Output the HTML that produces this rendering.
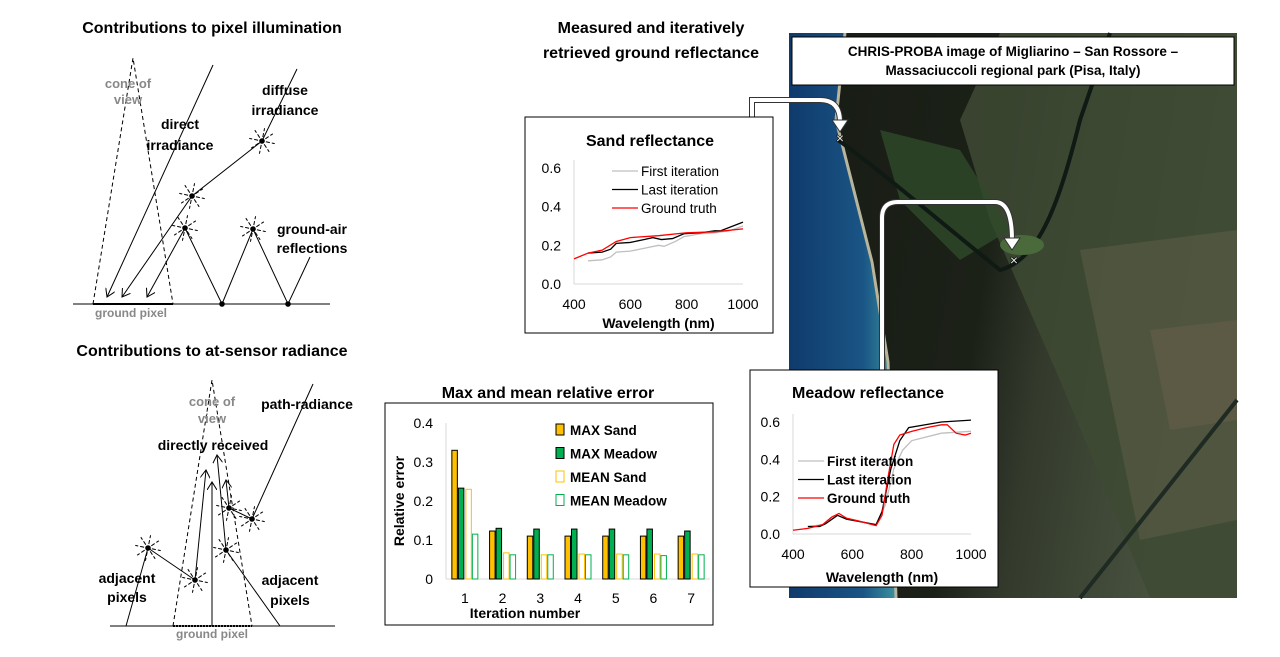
<!DOCTYPE html>
<html><head><meta charset="utf-8"><style>
body{margin:0;width:1280px;height:652px;background:#fff;overflow:hidden;font-family:"Liberation Sans",sans-serif}
svg text{font-family:"Liberation Sans",sans-serif}
</style></head><body>
<svg id="s" width="1280" height="652" xmlns="http://www.w3.org/2000/svg">
<defs>
<marker id="ah" markerWidth="10" markerHeight="10" refX="8" refY="5" orient="auto" markerUnits="userSpaceOnUse"><path d="M0,0 L8,5 L0,10" fill="none" stroke="#000" stroke-width="1"/></marker>
<linearGradient id="sea" x1="0" y1="0" x2="1" y2="0"><stop offset="0" stop-color="#0f3a6c"/><stop offset="0.7" stop-color="#1a5585"/><stop offset="1" stop-color="#3a8f9e"/></linearGradient>
<linearGradient id="land" x1="0" y1="0" x2="1" y2="0.2"><stop offset="0" stop-color="#171b14"/><stop offset="0.5" stop-color="#1c2118"/><stop offset="0.65" stop-color="#333a2c"/><stop offset="1" stop-color="#4a5340"/></linearGradient>
</defs>
<g>
<rect x="789" y="33" width="448" height="565" fill="url(#land)"/>
<polygon points="1000,33 1237,33 1237,598 1150,598 1060,380 990,220 960,120" fill="#3e4a34" opacity="0.85"/>
<polygon points="1080,250 1237,230 1237,520 1140,540" fill="#5a5c46" opacity="0.6"/>
<polygon points="1150,330 1237,320 1237,420 1170,430" fill="#6a5f4a" opacity="0.5"/>
<polygon points="880,130 960,150 1010,230 960,260 900,200" fill="#2f4a2a" opacity="0.8"/>
<polygon points="789,33 845,33 835,120 870,260 887,360 895,598 789,598" fill="url(#sea)"/>
<polyline points="845,33 836,120 872,262 888,362 896,598" fill="none" stroke="#b8b59c" stroke-width="3"/>
<path d="M838,140 C880,170 950,230 1000,270 C1040,260 1060,200 1080,120 L1110,33" fill="none" stroke="#101a14" stroke-width="4"/>
<path d="M1237,400 L1080,598" stroke="#1e2a22" stroke-width="4"/>
<ellipse cx="1022" cy="245" rx="22" ry="10" fill="#4a6a3c"/>
<rect x="792" y="37" width="442" height="48" fill="#fff" stroke="#000" stroke-width="1"/>
<text x="1013" y="56" text-anchor="middle" font-size="13.5" font-weight="bold">CHRIS-PROBA image of Migliarino – San Rossore –</text>
<text x="1013" y="75" text-anchor="middle" font-size="13.5" font-weight="bold">Massaciuccoli regional park (Pisa, Italy)</text>
</g>
<g fill="none">
<path d="M752,119 L752,100 L820,100 Q840,100 840,122" stroke="#333" stroke-width="6"/>
<path d="M752,119 L752,100 L820,100 Q840,100 840,122" stroke="#fff" stroke-width="4"/>
<polygon points="832,120 848,120 840,132" fill="#fff" stroke="#333"/>
<path d="M882,372 L882,218 Q882,202 898,202 L995,202 Q1012,202 1012,240" stroke="#333" stroke-width="6"/>
<path d="M882,372 L882,218 Q882,202 898,202 L995,202 Q1012,202 1012,240" stroke="#fff" stroke-width="4"/>
<polygon points="1004,238 1020,238 1012,250" fill="#fff" stroke="#333"/>
<text x="840" y="143" text-anchor="middle" font-size="14" fill="#fff" stroke="#000" stroke-width="0.6" font-weight="bold">×</text>
<text x="1014" y="265" text-anchor="middle" font-size="14" fill="#fff" stroke="#000" stroke-width="0.6" font-weight="bold">×</text>
</g>
<text x="212" y="33" text-anchor="middle" font-size="16" font-weight="bold">Contributions  to pixel illumination</text>
<text x="212" y="356" text-anchor="middle" font-size="16" font-weight="bold">Contributions  to at-sensor radiance</text>
<text x="651" y="33" text-anchor="middle" font-size="16" font-weight="bold">Measured and iteratively</text>
<text x="651" y="58" text-anchor="middle" font-size="16" font-weight="bold">retrieved ground reflectance</text>
<text x="548" y="398" text-anchor="middle" font-size="16" font-weight="bold">Max and mean relative error</text>
<g id="d1" stroke="#000" fill="none" stroke-width="1">
<line x1="73" y1="304" x2="330" y2="304"/>
<polyline points="93,304 133,58 173,304" stroke-dasharray="4,3"/>
<line x1="93" y1="304" x2="173" y2="304" stroke-width="2"/>
<line x1="213" y1="65" x2="107" y2="297" marker-end="url(#ah)"/>
<polyline points="297,69 262,141 192,196 122,297" marker-end="url(#ah)"/>
<line x1="185" y1="228" x2="147" y2="297" marker-end="url(#ah)"/>
<polyline points="185,228 222,304 253,229 288,304 310,257"/>
</g>
<g stroke="none" fill="#000" font-size="14" font-weight="bold" text-anchor="middle">
<text x="128" y="88" fill="#888" font-size="13">cone of</text><text x="128" y="104" fill="#888" font-size="13">view</text>
<text x="180" y="129">direct</text><text x="180" y="150">irradiance</text>
<text x="285" y="95">diffuse</text><text x="285" y="115">irradiance</text>
<text x="312" y="234">ground-air</text><text x="312" y="253">reflections</text>
<text x="131" y="317" fill="#888" font-size="12">ground pixel</text>
</g>
<g id="d2" stroke="#000" fill="none" stroke-width="1">
<line x1="110" y1="626" x2="335" y2="626"/>
<polyline points="173,626 212,380 252,626" stroke-dasharray="4,3"/>
<line x1="173" y1="626" x2="252" y2="626" stroke-width="2" stroke-dasharray="2,1"/>
<line x1="212" y1="626" x2="212" y2="482" marker-end="url(#ah)"/>
<line x1="195" y1="580" x2="206" y2="470" marker-end="url(#ah)"/>
<polyline points="126,626 148,548 195,580"/>
<polyline points="280,626 226,550 217,455" marker-end="url(#ah)"/>
<line x1="229" y1="508" x2="226" y2="480" marker-end="url(#ah)"/>
<polyline points="229,508 252,519 313,384"/>
</g>
<g stroke="none" fill="#000" font-size="14" font-weight="bold" text-anchor="middle">
<text x="212" y="406" fill="#888" font-size="13">cone of</text><text x="212" y="423" fill="#888" font-size="13">view</text>
<text x="307" y="409">path-radiance</text>
<text x="213" y="450">directly received</text>
<text x="127" y="583">adjacent</text><text x="127" y="602">pixels</text>
<text x="290" y="585">adjacent</text><text x="290" y="605">pixels</text>
<text x="212" y="638" fill="#888" font-size="12">ground pixel</text>
</g>
<rect x="525" y="117" width="248" height="216" fill="#fff" stroke="#000"/>
<text x="650" y="146" text-anchor="middle" font-size="16" font-weight="bold">Sand reflectance</text>
<g id="sand"></g>
<rect x="750" y="370" width="248" height="217" fill="#fff" stroke="#000"/>
<text x="792" y="398" font-size="16" font-weight="bold">Meadow reflectance</text>
<g id="meadow"></g>
<rect x="385" y="403" width="328" height="222" fill="#fff" stroke="#000"/>
<g id="bars"></g>
</svg>
<script>
const NS="http://www.w3.org/2000/svg";
const iterations=["1","2","3","4","5","6","7"];
const maxSand=[0.33,0.123,0.11,0.11,0.11,0.11,0.11];
const maxMeadow=[0.233,0.13,0.128,0.128,0.128,0.128,0.123];
const meanSand=[0.23,0.067,0.062,0.064,0.064,0.064,0.064];
const meanMeadow=[0.115,0.062,0.062,0.062,0.062,0.06,0.062];
const errTicks=["0","0.1","0.2","0.3","0.4"];
const sandTruthX=[400,450,500,550,600,700,800,900,1000];
const sandTruthY=[0.13,0.16,0.175,0.22,0.24,0.25,0.265,0.27,0.285];
const sandLastX=[450,500,530,550,600,650,680,710,750,790,850,900,920,1000];
const sandLastY=[0.16,0.165,0.18,0.21,0.215,0.23,0.24,0.23,0.235,0.26,0.265,0.275,0.275,0.32];
const sandFirstX=[450,500,530,550,600,650,700,720,760,790,850,900,950,1000];
const sandFirstY=[0.12,0.125,0.14,0.165,0.17,0.185,0.2,0.195,0.22,0.245,0.26,0.265,0.275,0.3];
const meadowTruthX=[400,450,500,530,555,580,620,680,700,720,740,760,800,850,900,920,950,980,1000];
const meadowTruthY=[0.02,0.03,0.05,0.09,0.11,0.085,0.07,0.045,0.1,0.3,0.48,0.53,0.55,0.57,0.585,0.585,0.54,0.53,0.54];
const meadowLastX=[450,490,510,550,580,680,700,730,760,790,900,1000];
const meadowLastY=[0.04,0.04,0.055,0.1,0.08,0.05,0.12,0.35,0.5,0.57,0.6,0.61];
const meadowFirstX=[450,500,550,580,680,710,740,770,800,900,1000];
const meadowFirstY=[0.04,0.05,0.1,0.08,0.05,0.15,0.35,0.45,0.5,0.54,0.55];
const wlTicks=["400","600","800","1000"];
const reflTicks=["0.0","0.2","0.4","0.6"];

function el(tag,attrs,parent){const e=document.createElementNS(NS,tag);for(const k in attrs)e.setAttribute(k,attrs[k]);parent.appendChild(e);return e;}
function txt(s,attrs,parent){const t=el('text',attrs,parent);t.textContent=s;return t;}

function star(g,x,y){
  const st=el('g',{},g);
  
  
  for(let i=0;i<8;i++){const a=i*Math.PI/4+0.2;el('line',{x1:x+4*Math.cos(a),y1:y+4*Math.sin(a),x2:x+13*Math.cos(a),y2:y+13*Math.sin(a),stroke:'#000','stroke-dasharray':'4,2'},st);}
  el('circle',{cx:x,cy:y,r:2.3,fill:'#000'},st);
}
const d1=document.getElementById('d1'),d2=document.getElementById('d2');
[[262,141],[192,196],[185,228],[253,229]].forEach(p=>star(d1,p[0],p[1]));
el('circle',{cx:222,cy:304,r:2.3,fill:'#000'},d1);el('circle',{cx:288,cy:304,r:2.3,fill:'#000'},d1);
[[148,548],[195,580],[226,550],[229,508],[252,519]].forEach(p=>star(d2,p[0],p[1]));

function lineChart(g,x0,x1,y0,y1,series,legendX,legendY,xlabelY){
  const sx=v=>x0+(v-400)/600*(x1-x0), sy=v=>y0-(v/0.6)*(y0-y1);
  el('line',{x1:x0,y1:y1-8,x2:x0,y2:y0,stroke:'#d9d9d9'},g);
  el('line',{x1:x0,y1:y0,x2:x1,y2:y0,stroke:'#d9d9d9'},g);
  reflTicks.forEach(t=>{const l=txt(t,{x:x0-13,y:sy(+t)+5,'text-anchor':'end','font-size':14},g);
    });
  wlTicks.forEach(t=>{const l=txt(t,{x:sx(+t),y:y0+25,'text-anchor':'middle','font-size':14},g);
    });
  const xl=txt('Wavelength (nm)',{x:(x0+x1)/2,y:xlabelY,'text-anchor':'middle','font-size':14,'font-weight':'bold'},g);
  
  series.forEach((s,i)=>{
    const p=el('polyline',{points:s.x.map((v,j)=>sx(v)+','+sy(s.y[j])).join(' '),fill:'none',stroke:s.c,'stroke-width':1.3},g);
    
  });
  series.forEach((s,i)=>{
    const yy=legendY+i*18.5;
    el('line',{x1:legendX-29,y1:yy-5,x2:legendX-3,y2:yy-5,stroke:s.c,'stroke-width':1.3},g);
    const t=txt(s.n,{x:legendX,y:yy,'font-size':13.5,'font-weight':s.b?'bold':'normal'},g);
    
  });
}
lineChart(document.getElementById('sand'),574,743,284,168,[
 {x:sandFirstX,y:sandFirstY,c:'#bfbfbf',n:'First iteration'},
 {x:sandLastX,y:sandLastY,c:'#000',n:'Last iteration'},
 {x:sandTruthX,y:sandTruthY,c:'#f00',n:'Ground truth'}],641,176,328);
lineChart(document.getElementById('meadow'),793,971,534,422,[
 {x:meadowFirstX,y:meadowFirstY,c:'#bfbfbf',n:'First iteration',b:1},
 {x:meadowLastX,y:meadowLastY,c:'#000',n:'Last iteration',b:1},
 {x:meadowTruthX,y:meadowTruthY,c:'#f00',n:'Ground truth',b:1}],827,466,582);

(function(){
  const g=document.getElementById('bars');
  const x0=446,x1=710,y0=579,yTop=423;
  const sy=v=>y0-v/0.4*(y0-yTop);
  const step=(x1-x0)/iterations.length;
  el('line',{x1:x0,y1:yTop,x2:x0,y2:y0,stroke:'#d9d9d9'},g);
  el('line',{x1:x0,y1:y0,x2:x1,y2:y0,stroke:'#d9d9d9'},g);
  errTicks.forEach(t=>{const l=txt(t,{x:433,y:sy(+t)+5,'text-anchor':'end','font-size':14},g);
    });
  const yl=txt('Relative error',{x:0,y:0,'text-anchor':'middle','font-size':14,'font-weight':'bold',transform:'translate(404,501) rotate(-90)'},g);
  
  const xl=txt('Iteration number',{x:525,y:618,'text-anchor':'middle','font-size':14,'font-weight':'bold'},g);
  
  const ser=[[maxSand,'#ffc000','#000'],[maxMeadow,'#00b050','#000'],[meanSand,'#fff','#ffc000'],[meanMeadow,'#fff','#00b050']];
  const names=['MAX Sand','MAX Meadow','MEAN Sand','MEAN Meadow'];
  const offs=[-13,-6.5,1,7.5];
  iterations.forEach((it,i)=>{
    const cx=x0+step*(i+0.5);
    const l=txt(it,{x:cx,y:603,'text-anchor':'middle','font-size':14},g);
    
    ser.forEach((s,k)=>{
      const v=s[0][i];
      const r=el('rect',{x:cx+offs[k],y:sy(v),width:5.5,height:y0-sy(v),fill:s[1],stroke:s[2],'stroke-width':1},g);
      
      
    });
  });
  ser.forEach((s,k)=>{
    const yy=435+k*23.5;
    el('rect',{x:556,y:yy-11,width:8,height:11,fill:s[1],stroke:s[2]},g);
    const t=txt(names[k],{x:570,y:yy,'font-size':13.5,'font-weight':'bold'},g);
    
  });
})();
</script>
</body></html>
